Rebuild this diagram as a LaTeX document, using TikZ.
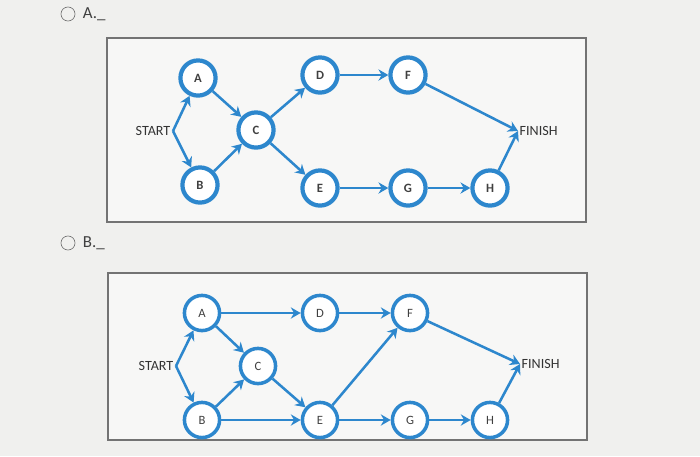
\documentclass[tikz,border=0pt]{standalone}
\usepackage{fontspec}
\setmainfont{Carlito}
\usetikzlibrary{arrows.meta}
\definecolor{bl}{RGB}{45,135,205}
\definecolor{bg}{RGB}{240,240,238}
\definecolor{pn}{RGB}{247,247,246}
\tikzset{
 nd/.style={circle,draw=bl,line width=3pt,fill=white,minimum size=25pt,inner sep=0pt,font=\bfseries\small,text=black!75},
 nb/.style={circle,draw=bl,line width=2.5pt,fill=white,minimum size=25pt,inner sep=0pt,font=\small,text=black!75},
 ar/.style={draw=bl,line width=1.8pt,-{Stealth[length=7pt,width=8pt]}},
 lb/.style={font=\normalsize,text=black!80,inner sep=1pt},
 pan/.style={draw=black!55,line width=0.8pt,fill=pn}
}
\begin{document}
\begin{tikzpicture}[x=0.025cm,y=-0.025cm]
\fill[bg] (0,0) rectangle (700,456);
\node[circle,draw=black!60,minimum size=10pt,inner sep=0pt] (ra) at (68,14) {};
\node[anchor=west,font=\large,text=black!75] (ta) at (78,14) {A.\_};
\node[circle,draw=black!60,minimum size=10pt,inner sep=0pt] (rb) at (68,243) {};
\node[anchor=west,font=\large,text=black!75] (tb) at (78,243) {B.\_};
% Panel A
\draw[pan] (107,38) rectangle (586,222);
\node[lb,anchor=east] (sa) at (172,131) {START};
\coordinate (sap) at (173,131);
\node[lb,anchor=west] (fa) at (518,131) {FINISH};
\coordinate (fap) at (518,131);
\node[nd] (A) at (198,78) {A};
\node[nd] (B) at (200,185) {B};
\node[nd] (C) at (256,130) {C};
\node[nd] (D) at (320,75) {D};
\node[nd] (F) at (408,75) {F};
\node[nd] (E) at (320,188) {E};
\node[nd] (G) at (408,188) {G};
\node[nd] (H) at (490,188) {H};
\draw[ar] (sap) -- (A); \draw[ar] (sap) -- (B);
\draw[ar] (A) -- (C); \draw[ar] (B) -- (C);
\draw[ar] (C) -- (D); \draw[ar] (C) -- (E);
\draw[ar] (D) -- (F); \draw[ar] (E) -- (G); \draw[ar] (G) -- (H);
\draw[ar] (F) -- (fap); \draw[ar] (H) -- (fap);
% Panel B
\draw[pan] (108,273) rectangle (587,440);
\node[lb,anchor=east] (sb) at (175,366) {START};
\coordinate (sbp) at (176,366);
\node[lb,anchor=west] (fb) at (520,364) {FINISH};
\coordinate (fbp) at (520,364);
\node[nb] (A2) at (202,313) {A};
\node[nb] (B2) at (202,420) {B};
\node[nb] (C2) at (258,366) {C};
\node[nb] (D2) at (320,313) {D};
\node[nb] (F2) at (410,313) {F};
\node[nb] (E2) at (320,420) {E};
\node[nb] (G2) at (410,420) {G};
\node[nb] (H2) at (490,420) {H};
\draw[ar] (sbp) -- (A2); \draw[ar] (sbp) -- (B2);
\draw[ar] (A2) -- (D2); \draw[ar] (A2) -- (C2);
\draw[ar] (B2) -- (C2); \draw[ar] (B2) -- (E2);
\draw[ar] (C2) -- (E2); \draw[ar] (D2) -- (F2);
\draw[ar] (E2) -- (F2); \draw[ar] (E2) -- (G2); \draw[ar] (G2) -- (H2);
\draw[ar] (F2) -- (fbp); \draw[ar] (H2) -- (fbp);
\end{tikzpicture}
\end{document}
